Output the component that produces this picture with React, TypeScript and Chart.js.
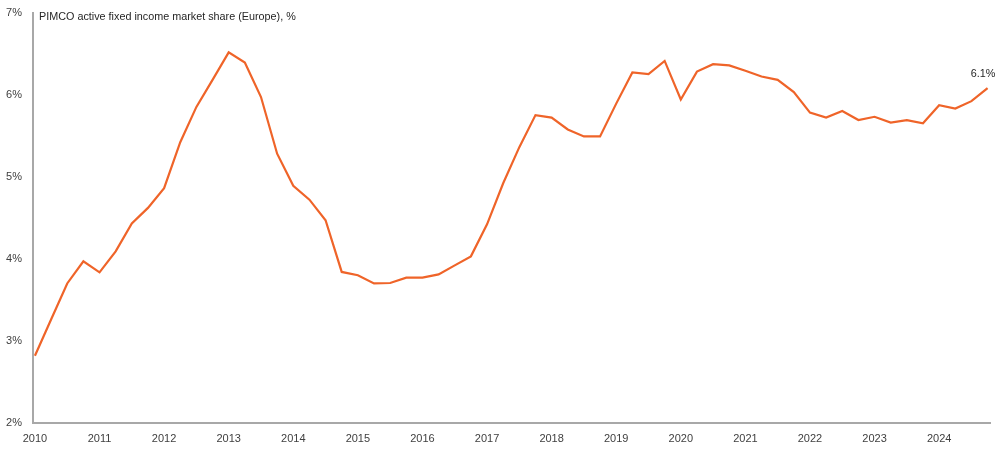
import React, { useEffect, useRef } from "react";
import { Chart, registerables } from "chart.js";

Chart.register(...registerables);

const years: number[] = [2010, 2011, 2012, 2013, 2014, 2015, 2016, 2017, 2018, 2019, 2020, 2021, 2022, 2023, 2024];
const quarterLabels: string[] = years.flatMap((y) => ["Q1", "Q2", "Q3", "Q4"].map((q) => `${y} ${q}`));
const marketShare: number[] = [
  2.82, 3.26, 3.7, 3.97, 3.835, 4.09, 4.43, 4.62, 4.86, 5.42, 5.85, 6.18, 6.515, 6.39, 5.97, 5.28,
  4.89, 4.72, 4.47, 3.84, 3.8, 3.7, 3.705, 3.77, 3.77, 3.81, 3.92, 4.03, 4.42, 4.92, 5.36, 5.75,
  5.72, 5.575, 5.49, 5.49, 5.89, 6.27, 6.25, 6.41, 5.94, 6.28, 6.37, 6.356, 6.29, 6.22, 6.18, 6.03,
  5.78, 5.72, 5.8, 5.69, 5.73, 5.66, 5.69, 5.65, 5.87, 5.83, 5.92, 6.08,
];
const yTicks: number[] = [2, 3, 4, 5, 6, 7];
const chartTitle = "PIMCO active fixed income market share (Europe), %";
const lastLabel = "6.1%";

const FONT = "'Liberation Sans', Arial, sans-serif";

export default function App() {
  const ref = useRef<HTMLCanvasElement | null>(null);

  useEffect(() => {
    if (!ref.current) return;
    const points = marketShare.map((v, i) => ({ x: i, y: v }));

    const overlay = {
      id: "overlay",
      afterDraw(chart: any) {
        const { ctx, chartArea, scales } = chart;
        ctx.save();
        ctx.fillStyle = "#262626";
        ctx.font = `10.8px ${FONT}`;
        ctx.textAlign = "left";
        ctx.textBaseline = "middle";
        ctx.fillText(chartTitle, chartArea.left + 6, chartArea.top + 5);
        const last = points.length - 1;
        const px = scales.x.getPixelForValue(last);
        const py = scales.y.getPixelForValue(marketShare[last]);
        ctx.textAlign = "center";
        ctx.fillText(lastLabel, px - 4.5, py - 14);
        ctx.restore();
      },
    };

    const chart = new Chart(ref.current, {
      type: "line",
      data: {
        labels: quarterLabels,
        datasets: [
          {
            label: chartTitle,
            data: points,
            borderColor: "#EF6429",
            borderWidth: 2.2,
            pointRadius: 0,
            tension: 0,
            fill: false,
          },
        ],
      },
      options: {
        animation: false,
        responsive: true,
        maintainAspectRatio: false,
        layout: { padding: { top: 12.5, right: 11, left: 0, bottom: 0 } },
        plugins: { legend: { display: false }, tooltip: { enabled: false }, title: { display: false } },
        scales: {
          x: {
            type: "linear",
            min: -0.12,
            max: 59.15,
            afterBuildTicks: (scale: any) => {
              scale.ticks = years.map((y, i) => ({ value: i * 4, label: String(y) }));
            },
            afterFit: (scale: any) => {
              scale.height = 29;
            },
            grid: { display: true, drawOnChartArea: false, drawTicks: true, tickLength: 9, tickColor: "rgba(0,0,0,0)" },
            border: { display: true, color: "#A8A8A8", width: 2 },
            ticks: {
              padding: 0,
              color: "#404040",
              font: { family: FONT, size: 11 },
              autoSkip: false,
              maxRotation: 0,
              callback: (v: any) => {
                const idx = Math.round(Number(v) / 4);
                return years[idx] !== undefined ? String(years[idx]) : "";
              },
            },
          },
          y: {
            min: 2,
            max: 7,
            afterBuildTicks: (scale: any) => {
              scale.ticks = yTicks.map((v) => ({ value: v }));
            },
            afterFit: (scale: any) => {
              scale.width = 33;
            },
            grid: { display: true, drawOnChartArea: false, drawTicks: true, tickLength: 11, tickColor: "rgba(0,0,0,0)" },
            border: { display: true, color: "#A8A8A8", width: 2 },
            ticks: {
              padding: 0,
              color: "#404040",
              font: { family: FONT, size: 11 },
              callback: (v: any) => `${v}%`,
            },
          },
        },
      },
      plugins: [overlay],
    });
    return () => chart.destroy();
  }, []);

  return (
    <div style={{ position: "fixed", left: 0, top: 0, width: 1001, height: 452, background: "#fff" }}>
      <canvas ref={ref} />
    </div>
  );
}
